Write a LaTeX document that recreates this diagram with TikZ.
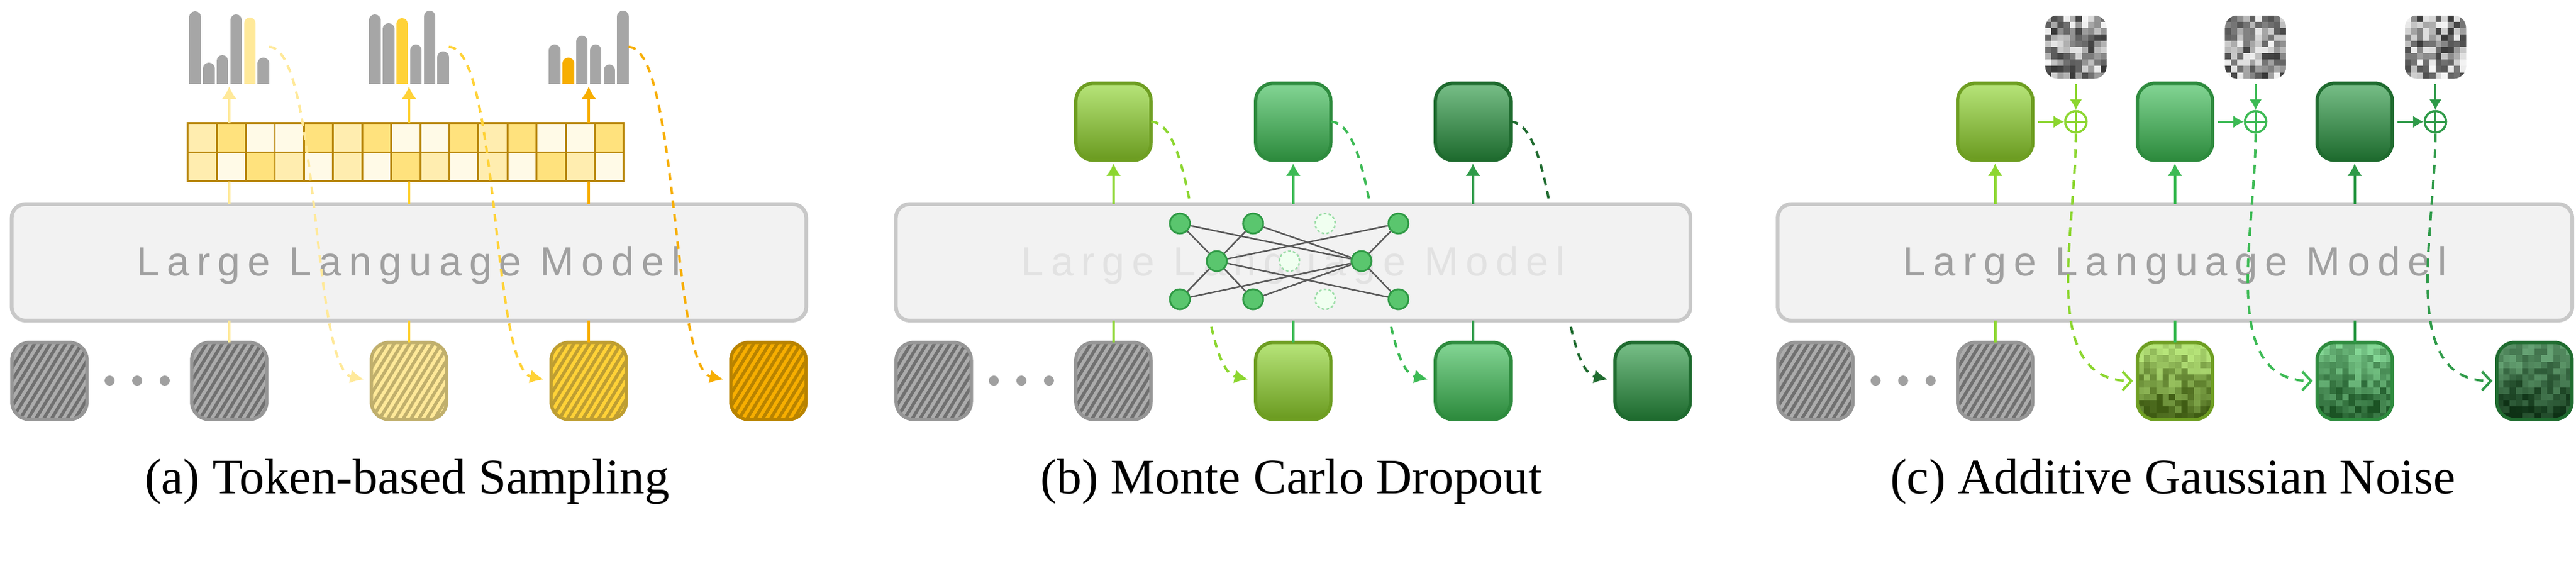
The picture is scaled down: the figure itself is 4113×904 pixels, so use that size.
\documentclass[tikz,border=0pt]{standalone}
\usepackage{fontspec}
\setmainfont{Liberation Serif}
\newfontfamily\llmfont[LetterSpace=18]{Liberation Sans}
\usetikzlibrary{arrows.meta,calc,positioning}

% colores
\definecolor{LF}{RGB}{242,242,242}
\definecolor{LL}{RGB}{200,200,200}
\definecolor{LT}{RGB}{160,160,160}
\definecolor{Hg}{RGB}{166,166,166}
\definecolor{Gr}{RGB}{172,172,172}
\definecolor{GrD}{RGB}{112,112,112}
\definecolor{GrL}{RGB}{150,150,150}
\definecolor{Y1}{RGB}{255,233,153}
\definecolor{Y1D}{RGB}{192,175,108}
\definecolor{Y2}{RGB}{255,210,55}
\definecolor{Y2D}{RGB}{190,158,50}
\definecolor{Y3}{RGB}{247,174,0}
\definecolor{Y3D}{RGB}{184,131,0}
\definecolor{GB}{RGB}{184,134,11}
\colorlet{C1}{Y2!12!white}
\colorlet{C2}{Y2!40!white}
\colorlet{C3}{Y2!65!white}
\definecolor{LmT}{RGB}{183,229,122}
\definecolor{LmB}{RGB}{106,154,31}
\definecolor{LmL}{RGB}{110,158,34}
\definecolor{LmA}{RGB}{140,214,48}
\definecolor{GnT}{RGB}{132,214,149}
\definecolor{GnB}{RGB}{44,138,60}
\definecolor{GnL}{RGB}{46,139,62}
\definecolor{GnA}{RGB}{60,186,84}
\definecolor{DkT}{RGB}{120,191,136}
\definecolor{DkB}{RGB}{29,106,45}
\definecolor{DkL}{RGB}{31,107,47}
\definecolor{DkA}{RGB}{46,154,72}
\definecolor{NN}{RGB}{90,198,110}
\definecolor{NNL}{RGB}{47,154,69}

\tikzset{
  token/.style={rounded corners=0.28cm, minimum width=1.2cm, minimum height=1.23cm, inner sep=0pt, outer sep=0pt, line width=1.5pt},
  llm/.style={draw=LL, fill=LF, line width=1.7pt, rounded corners=0.22cm, minimum width=12.68cm, minimum height=1.86cm, inner sep=0pt, outer sep=0pt},
  llmtext/.style={text=LT, font=\llmfont\fontsize{18.5}{19}\selectfont, inner sep=0pt, anchor=base},
  caption/.style={font=\fontsize{22.6}{24}\selectfont, inner sep=0pt, anchor=base},
  feed/.style={line width=1.1pt},
  uparr/.style={line width=1.1pt, -{Latex[length=0.2cm,width=0.24cm]}, shorten >=0.05cm},
  backarr/.style={line width=1.1pt, dash pattern=on 0.12cm off 0.1cm, -{Latex[length=0.22cm,width=0.22cm]}, shorten >=0.12cm},
  noisearr/.style={line width=1.1pt, dash pattern=on 0.14cm off 0.11cm, -{Straight Barb[length=0.14cm,width=0.3cm]}, shorten >=0.07cm},
  addarr/.style={line width=1.1pt, -{Latex[length=0.17cm,width=0.2cm]}, shorten <=0.08cm},
  histbox/.style={minimum width=1.27cm, minimum height=1.16cm, inner sep=0pt, outer sep=0pt},
  histbar/.style={line width=0.184cm, line cap=round},
  cell/.style={draw=GB, line width=0.85pt},
  neuron/.style={circle, fill=NN, draw=NNL, line width=0.8pt, minimum size=0.32cm, inner sep=0pt},
  dropped/.style={circle, fill=green!6, draw=NN!60, dash pattern=on 1.2pt off 1pt, line width=0.7pt, minimum size=0.32cm, inner sep=0pt},
  link/.style={draw=black!65, line width=0.7pt},
  sumnode/.style={circle, draw=#1, line width=1pt, minimum size=0.34cm, inner sep=0pt,
    path picture={\draw[#1, line width=1pt] (path picture bounding box.north) -- (path picture bounding box.south)
      (path picture bounding box.west) -- (path picture bounding box.east);}},
  noisebox/.style={minimum width=0.98cm, minimum height=1.01cm, inner sep=0pt, outer sep=0pt},
}

% token rayado: nodo, relleno, raya, borde
\newcommand\rayado[4]{%
  \fill[#2, rounded corners=0.28cm] (#1.south west) rectangle (#1.north east);
  \begin{scope}
    \clip[rounded corners=0.28cm] (#1.south west) rectangle (#1.north east);
    \foreach \k in {-6,...,10}
      \draw[#3, line width=1.45pt] ($(#1.south west)+(\k*12.5,0)$) -- ++(75,-123);
  \end{scope}
  \draw[#4, line width=1.5pt, rounded corners=0.28cm] (#1.south west) rectangle (#1.north east);}

% token con ruido: nodo, arriba, abajo, borde
\newcommand\ruido[4]{%
  \begin{scope}
    \clip[rounded corners=0.28cm] (#1.south west) rectangle (#1.north east);
    \foreach \i in {0,...,11}
      \foreach \j in {0,...,11}{
        \pgfmathrandominteger{\rv}{-28}{28}
        \pgfmathtruncatemacro{\pv}{min(100,max(0,\j*8+\rv+6))}
        \fill[#3!\pv!#2] ($(#1.north west)+(\i*10,\j*10.25)$) rectangle ++(10.3,10.6);
      }
  \end{scope}
  \draw[#4, line width=1.5pt, rounded corners=0.28cm] (#1.south west) rectangle (#1.north east);}

% imagen de ruido gris
\newcommand\nieve[1]{%
  \begin{scope}
    \clip[rounded corners=0.2cm] (#1.south west) rectangle (#1.north east);
    \foreach \i in {0,...,9}
      \foreach \j in {0,...,9}{
        \pgfmathrandominteger{\gv}{4}{78}
        \fill[black!\gv] ($(#1.north west)+(\i*9.8,\j*10.1)$) rectangle ++(10,10.3);
      }
  \end{scope}}

% histograma: nodo, alturas/colores
\newcommand\histo[2]{%
  \begin{scope}[shift={(#1.south west)}]
    \clip (-5,0) rectangle (135,-125);
    \foreach \h/\c [count=\k from 0] in {#2}
      \draw[histbar, \c] (9.2+\k*21.8,20) -- (9.2+\k*21.8,-\h+9.2);
  \end{scope}}

\begin{document}
\begin{tikzpicture}[x=0.01cm, y=-0.01cm]
  \useasboundingbox (0,0) rectangle (4113,904);
  \pgfmathsetseed{11}

  %(a) Token-based Sampling
  \node[token] (at1) at (79,608.5) {};
  \node[token] (at2) at (366,608.5) {};
  \node[token] (at3) at (653,608.5) {};
  \node[token] (at4) at (940,608.5) {};
  \node[token] (at5) at (1227,608.5) {};
  \rayado{at1}{Gr}{GrD}{GrL}
  \rayado{at2}{Gr}{GrD}{GrL}
  \rayado{at3}{Y1}{Y1D}{Y1D}
  \rayado{at4}{Y2}{Y2D}{Y2D}
  \rayado{at5}{Y3}{Y3D}{Y3D}
  \foreach \d in {-44,0,44} \fill[LT] (219+\d,608) circle (8);

  \node[llm] (llmA) at (653,419) {};
  \node[llmtext] (txtA) at ($(llmA.center)+(0,22)$) {Large Language Model};

  %rejilla de logits
  \node[inner sep=0pt, outer sep=0pt, minimum width=6.96cm, minimum height=0.93cm] (gridA) at (648,243.5) {};
  \foreach \v [count=\i from 0] in {2,3,1,1,3,2,3,1,1,3,2,3,1,1,3}
    \draw[cell, fill=C\v] ($(gridA.north west)+(\i*46.4,0)$) rectangle ++(46.4,46.5);
  \foreach \v [count=\i from 0] in {2,1,3,2,1,2,1,3,2,1,2,1,3,2,1}
    \draw[cell, fill=C\v] ($(gridA.north west)+(\i*46.4,46.5)$) rectangle ++(46.4,46.5);

  %histogramas
  \node[histbox] (hA1) at (366,75) {};
  \node[histbox] (hA2) at (653,75) {};
  \node[histbox] (hA3) at (940,75) {};
  \histo{hA1}{115/Hg,33/Hg,45/Hg,110/Hg,105/Y1,41/Hg}
  \histo{hA2}{110/Hg,96/Hg,104/Y2,62/Hg,116/Hg,51/Hg}
  \histo{hA3}{62/Hg,41/Y3,76/Hg,62/Hg,30/Hg,116/Hg}

  \draw[feed, Y1] (at2.north) -- (llmA.south -| at2.north);
  \draw[feed, Y2] (at3.north) -- (llmA.south -| at3.north);
  \draw[feed, Y3] (at4.north) -- (llmA.south -| at4.north);
  \draw[feed, Y1] (llmA.north -| at2) -- (gridA.south -| at2);
  \draw[feed, Y2] (llmA.north -| at3) -- (gridA.south -| at3);
  \draw[feed, Y3] (llmA.north -| at4) -- (gridA.south -| at4);
  \draw[uparr, Y1] (gridA.north -| hA1) -- (hA1.south);
  \draw[uparr, Y2] (gridA.north -| hA2) -- (hA2.south);
  \draw[uparr, Y3] (gridA.north -| hA3) -- (hA3.south);

  \draw[backarr, Y1] (hA1.east) .. controls +(80,0) and +(-95,-20) .. (at3.west);
  \draw[backarr, Y2] (hA2.east) .. controls +(80,0) and +(-95,-20) .. (at4.west);
  \draw[backarr, Y3] (hA3.east) .. controls +(80,0) and +(-95,-20) .. (at5.west);

  \node[caption] (capA) at (650,788) {(a) Token-based Sampling};

  %(b) Monte Carlo Dropout
  \begin{scope}[xshift=14.11cm]
    \node[token] (bt1) at (79,608.5) {};
    \node[token] (bt2) at (366,608.5) {};
    \rayado{bt1}{Gr}{GrD}{GrL}
    \rayado{bt2}{Gr}{GrD}{GrL}
    \foreach \d in {-44,0,44} \fill[LT] (219+\d,608) circle (8);
    \node[token, draw=LmL, top color=LmT, bottom color=LmB] (bt3) at (653,608.5) {};
    \node[token, draw=GnL, top color=GnT, bottom color=GnB] (bt4) at (940,608.5) {};
    \node[token, draw=DkL, top color=DkT, bottom color=DkB] (bt5) at (1227,608.5) {};

    \node[token, draw=LmL, top color=LmT, bottom color=LmB] (bo1) at (366,194.5) {};
    \node[token, draw=GnL, top color=GnT, bottom color=GnB] (bo2) at (653,194.5) {};
    \node[token, draw=DkL, top color=DkT, bottom color=DkB] (bo3) at (940,194.5) {};

    %las flechas pasan por debajo del modelo
    \draw[backarr, LmA] (bo1.east) .. controls +(80,0) and +(-95,-20) .. (bt3.west);
    \draw[backarr, GnA] (bo2.east) .. controls +(80,0) and +(-95,-20) .. (bt4.west);
    \draw[backarr, DkL] (bo3.east) .. controls +(80,0) and +(-95,-20) .. (bt5.west);

    \node[llm] (llmB) at (653,419) {};
    \node[llmtext, text=LT!30] (txtB) at ($(llmB.center)+(0,22)$) {Large Language Model};

    \draw[feed, LmA] (bt2.north) -- (llmB.south -| bt2.north);
    \draw[feed, GnA] (bt3.north) -- (llmB.south -| bt3.north);
    \draw[feed, DkA] (bt4.north) -- (llmB.south -| bt4.north);
    \draw[uparr, LmA] (llmB.north -| bo1.south) -- (bo1.south);
    \draw[uparr, GnA] (llmB.north -| bo2.south) -- (bo2.south);
    \draw[uparr, DkA] (llmB.north -| bo3.south) -- (bo3.south);

    %red con dropout
    \node[neuron] (n1) at (472,357) {};
    \node[neuron] (n2) at (472,478) {};
    \node[neuron] (n3) at (531,417) {};
    \node[neuron] (n4) at (589,357) {};
    \node[neuron] (n5) at (589,478) {};
    \node[dropped] (n6) at (647,417) {};
    \node[dropped] (n7) at (704,357) {};
    \node[dropped] (n8) at (704,478) {};
    \node[neuron] (n9) at (762,417) {};
    \node[neuron] (n10) at (821,357) {};
    \node[neuron] (n11) at (821,478) {};
    \foreach \m in {n1,n2,n4,n5,n10,n11} {
      \draw[link] (n3) -- (\m);
      \draw[link] (n9) -- (\m);
    }

    \node[caption] (capB) at (650,788) {(b) Monte Carlo Dropout};
  \end{scope}

  %(c) Additive Gaussian Noise
  \begin{scope}[xshift=28.18cm]
    \node[token] (ct1) at (79,608.5) {};
    \node[token] (ct2) at (366,608.5) {};
    \rayado{ct1}{Gr}{GrD}{GrL}
    \rayado{ct2}{Gr}{GrD}{GrL}
    \foreach \d in {-44,0,44} \fill[LT] (219+\d,608) circle (8);
    \node[token] (ct3) at (653,608.5) {};
    \node[token] (ct4) at (940,608.5) {};
    \node[token] (ct5) at (1227,608.5) {};
    \ruido{ct3}{LmT}{LmB!60!black}{LmL}
    \ruido{ct4}{GnT}{GnB!60!black}{GnL}
    \ruido{ct5}{DkT!85!black}{DkB!55!black}{DkL}

    \node[llm] (llmC) at (653,419) {};
    \node[llmtext] (txtC) at ($(llmC.center)+(0,22)$) {Large Language Model};

    \node[token, draw=LmL, top color=LmT, bottom color=LmB] (co1) at (366,194.5) {};
    \node[token, draw=GnL, top color=GnT, bottom color=GnB] (co2) at (653,194.5) {};
    \node[token, draw=DkL, top color=DkT, bottom color=DkB] (co3) at (940,194.5) {};

    \node[sumnode=LmA, right=0.5cm of co1] (sc1) {};
    \node[sumnode=GnA, right=0.5cm of co2] (sc2) {};
    \node[sumnode=DkA, right=0.5cm of co3] (sc3) {};
    \node[noisebox, above=0.5cm of sc1] (nc1) {};
    \node[noisebox, above=0.5cm of sc2] (nc2) {};
    \node[noisebox, above=0.5cm of sc3] (nc3) {};
    \nieve{nc1}
    \nieve{nc2}
    \nieve{nc3}

    \draw[feed, LmA] (ct2.north) -- (llmC.south -| ct2.north);
    \draw[feed, GnA] (ct3.north) -- (llmC.south -| ct3.north);
    \draw[feed, DkA] (ct4.north) -- (llmC.south -| ct4.north);
    \draw[uparr, LmA] (llmC.north -| co1.south) -- (co1.south);
    \draw[uparr, GnA] (llmC.north -| co2.south) -- (co2.south);
    \draw[uparr, DkA] (llmC.north -| co3.south) -- (co3.south);

    \draw[addarr, LmA] (nc1) -- (sc1);
    \draw[addarr, GnA] (nc2) -- (sc2);
    \draw[addarr, DkA] (nc3) -- (sc3);
    \draw[addarr, LmA] (co1) -- (sc1);
    \draw[addarr, GnA] (co2) -- (sc2);
    \draw[addarr, DkA] (co3) -- (sc3);

    \draw[noisearr, LmA] (sc1.south) to[out=-90,in=180] (ct3.west);
    \draw[noisearr, GnA] (sc2.south) to[out=-90,in=180] (ct4.west);
    \draw[noisearr, DkA] (sc3.south) to[out=-90,in=180] (ct5.west);

    \node[caption] (capC) at (650,788) {(c) Additive Gaussian Noise};
  \end{scope}
\end{tikzpicture}
\end{document}
